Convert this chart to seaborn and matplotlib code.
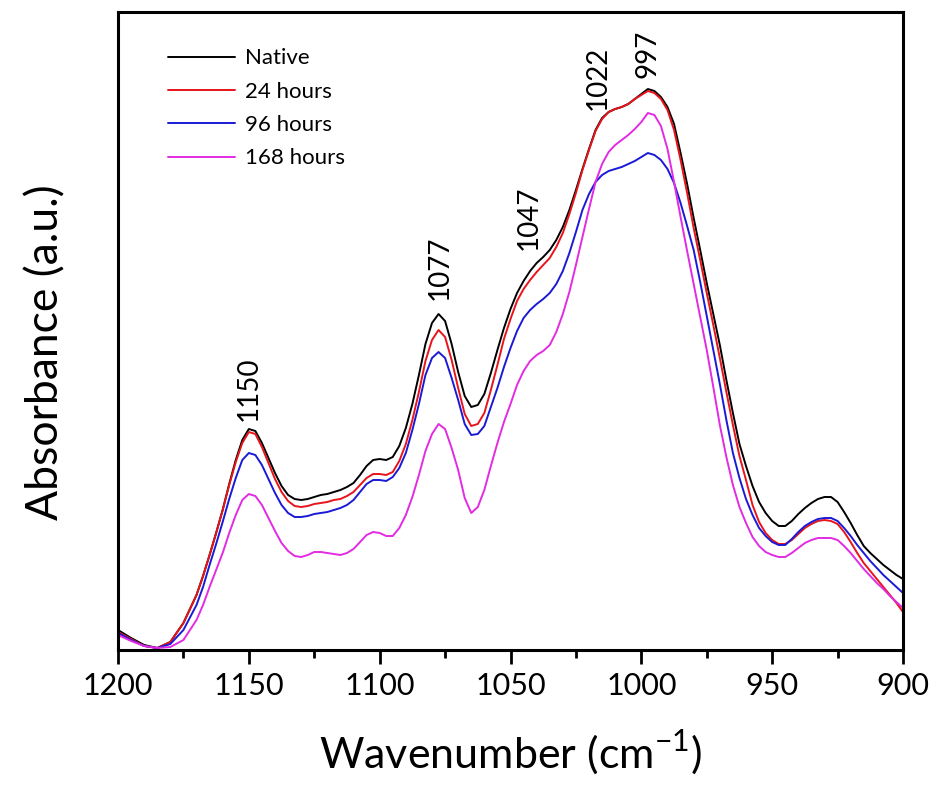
import numpy as np
import pandas as pd
import matplotlib
matplotlib.use("Agg")
import matplotlib.pyplot as plt
import seaborn as sns

wavenumber = [1200, 1195, 1190, 1185, 1180, 1175,
              1170, 1167.5, 1165, 1162.5, 1160, 1157.5, 1155, 1152.5, 1150, 1147.5,
              1145, 1142.5, 1140, 1137.5, 1135, 1132.5, 1130, 1127.5, 1125, 1122.5,
              1120, 1117.5, 1115, 1112.5, 1110, 1107.5, 1105, 1102.5, 1100, 1097.5,
              1095, 1092.5, 1090, 1087.5, 1085, 1082.5, 1080, 1077.5, 1075, 1072.5,
              1070, 1067.5, 1065, 1062.5, 1060, 1057.5, 1055, 1052.5, 1050, 1047.5,
              1045, 1042.5, 1040, 1037.5, 1035, 1032.5, 1030, 1027.5, 1025, 1022.5,
              1020, 1017.5, 1015, 1012.5, 1010, 1007.5, 1005, 1002.5, 1000, 997.5,
              995, 992.5, 990, 987.5, 985, 982.5, 980, 977.5, 975, 972.5,
              970, 967.5, 965, 962.5, 960, 957.5, 955, 952.5, 950, 947.5,
              945, 942.5, 940, 937.5, 935, 932.5, 930, 927.5, 925, 922.5,
              920, 917.5, 915, 912.5, 910, 907.5, 905, 902.5, 900]

native = [20, 12, 5, 2, 8, 27,
          55, 74, 95, 117, 140, 166, 190, 210, 221, 219,
          207, 192, 177, 164, 155, 151, 150, 151, 153, 155,
          156, 158, 160, 163, 167, 175, 184, 190, 191, 190,
          193, 204, 222, 246, 275, 306, 327, 336, 329, 306,
          278, 254, 243, 245, 256, 277, 300, 322, 341, 357,
          369, 379, 387, 393, 400, 410, 423, 440, 460, 481,
          501, 520, 532, 538, 541, 543, 546, 551, 556, 561,
          559, 553, 543, 526, 497, 466, 432, 400, 367, 336,
          305, 270, 237, 206, 184, 164, 148, 137, 129, 124,
          124, 129, 136, 142, 147, 151, 153, 153, 148, 138,
          127, 115, 104, 97, 91, 85, 80, 75, 71]

h24 = [18, 11, 4, 2, 8, 27,
       55, 74, 95, 117, 140, 165, 188, 207, 218, 216,
       203, 187, 171, 158, 149, 144, 143, 144, 146, 147,
       148, 150, 151, 154, 158, 165, 172, 176, 176, 175,
       178, 189, 206, 230, 258, 289, 310, 320, 313, 290,
       262, 236, 224, 226, 237, 260, 285, 311, 331, 349,
       361, 370, 378, 385, 392, 403, 417, 436, 457, 480,
       500, 519, 531, 538, 541, 543, 546, 551, 555, 559,
       557, 551, 540, 520, 490, 457, 422, 390, 357, 325,
       292, 258, 225, 194, 170, 145, 128, 117, 110, 106,
       106, 110, 116, 122, 126, 129, 130, 129, 126, 118,
       108, 97, 87, 79, 71, 63, 55, 47, 38]

h96 = [17, 10, 4, 2, 6, 20,
       45, 63, 85, 106, 128, 151, 172, 190, 197, 195,
       185, 171, 157, 145, 137, 133, 133, 134, 136, 137,
       138, 140, 142, 145, 150, 158, 166, 170, 170, 169,
       173, 182, 197, 220, 246, 275, 292, 298, 292, 272,
       250, 226, 215, 216, 224, 243, 262, 283, 302, 319,
       332, 340, 346, 351, 357, 366, 379, 397, 418, 440,
       456, 468, 475, 479, 481, 483, 486, 489, 493, 497,
       495, 490, 481, 467, 447, 424, 400, 368, 334, 300,
       266, 230, 197, 172, 151, 135, 122, 114, 108, 105,
       105, 111, 118, 124, 128, 131, 132, 132, 129, 122,
       114, 105, 97, 89, 82, 75, 69, 63, 57]

h168 = [15, 9, 4, 2, 3, 10,
        30, 45, 63, 80, 97, 117, 135, 150, 156, 154,
        145, 132, 119, 107, 99, 94, 93, 95, 98, 98,
        97, 96, 95, 97, 101, 108, 115, 118, 117, 114,
        114, 122, 135, 153, 175, 199, 216, 226, 221, 202,
        180, 152, 137, 143, 160, 184, 207, 228, 246, 265,
        279, 289, 295, 299, 305, 318, 336, 358, 385, 413,
        441, 468, 486, 498, 505, 510, 515, 521, 528, 537,
        535, 524, 501, 468, 433, 399, 366, 333, 300, 263,
        225, 193, 165, 143, 127, 113, 104, 98, 95, 93,
        93, 97, 102, 107, 110, 112, 112, 112, 110, 104,
        97, 89, 81, 74, 67, 61, 54, 48, 42]

series_names = ["Native", "24 hours", "96 hours", "168 hours"]
series_colors = ["#000000", "#e8141b", "#1a1ad6", "#e22be2"]

peak_positions = [1150, 1077, 1043, 1016.5, 997.5]
peak_label_heights = [229, 350, 400, 540, 572]
peak_labels = ["1150", "1077", "1047", "1022", "997"]

x_ticks = [1200, 1150, 1100, 1050, 1000, 950, 900]
x_minor_ticks = [1175, 1125, 1075, 1025, 975, 925]

df = pd.concat([
    pd.DataFrame({"Wavenumber": wavenumber, "Absorbance": vals, "Sample": name})
    for name, vals in zip(series_names, [native, h24, h96, h168])
], ignore_index=True)

sns.set_theme(style="white")
plt.rcParams["font.family"] = ["Lato", "DejaVu Sans"]
plt.rcParams["mathtext.fontset"] = "custom"
plt.rcParams["mathtext.rm"] = "Lato"
plt.rcParams["text.color"] = "black"
plt.rcParams["axes.labelcolor"] = "black"
plt.rcParams["xtick.color"] = "black"
plt.rcParams["ytick.color"] = "black"

fig = plt.figure(figsize=(9.35, 7.94), dpi=100)
ax = fig.add_axes([118 / 935, 1 - 650 / 794, 785 / 935, 638 / 794])

sns.lineplot(data=df, x="Wavenumber", y="Absorbance", hue="Sample",
             hue_order=series_names, palette=series_colors, linewidth=1.4,
             sort=False, estimator=None, ax=ax)

ax.set_xlim(1200, 900)
ax.set_ylim(0, 638)
ax.set_xticks(x_ticks)
ax.set_xticks(x_minor_ticks, minor=True)
ax.set_yticks([])
ax.tick_params(axis="x", which="major", direction="out", length=10, width=2,
               labelsize=22, pad=6, bottom=True, colors="black")
ax.tick_params(axis="x", which="minor", direction="out", length=6, width=2, bottom=True)
for s in ax.spines.values():
    s.set_linewidth(2.2)
    s.set_color("black")
    s.set_visible(True)

ax.set_xlabel("Wavenumber (cm$^{-1}$)", fontsize=31, color="black")
ax.xaxis.label.set_va("center")
ax.xaxis.set_label_coords(0.5, -0.16)
ax.set_ylabel("Absorbance (a.u.)", fontsize=32, color="black")
ax.yaxis.label.set_va("center")
ax.yaxis.set_label_coords(-0.092, 0.467)

for xp, yp, lab in zip(peak_positions, peak_label_heights, peak_labels):
    ax.text(xp, yp, lab, rotation=90, ha="center", va="bottom", fontsize=20, color="black")

handles, labels = ax.get_legend_handles_labels()
ax.legend(handles, labels, loc="upper left", bbox_to_anchor=(0.064, 0.943),
          frameon=False, fontsize=16, handlelength=3.0, handletextpad=0.45,
          labelspacing=0.6, borderpad=0, borderaxespad=0)

fig.savefig("out.png", dpi=100)
